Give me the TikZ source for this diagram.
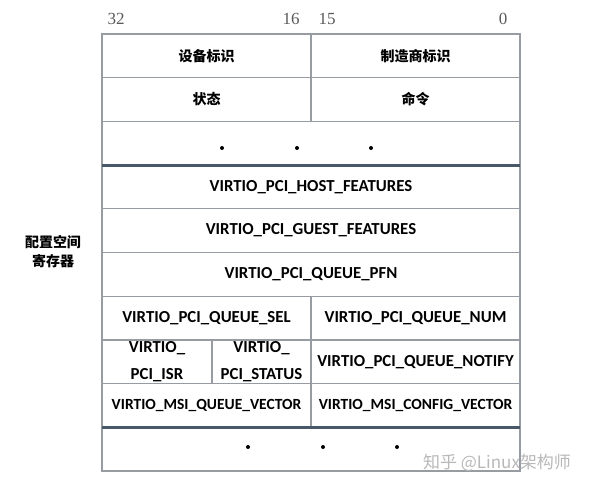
\documentclass[tikz,border=0pt]{standalone}
\usepackage{fontspec}
\setmainfont{Liberation Serif}
\setsansfont{Carlito}
\newfontfamily\cjk{Noto Sans CJK SC}
\usetikzlibrary{positioning}
\definecolor{gridgray}{RGB}{150,156,162}
\definecolor{ruleblue}{RGB}{72,88,104}

\begin{document}
\begin{tikzpicture}[
  x=1pt, y=-1pt,
  node distance=0pt,
  cell/.style={rectangle, draw=gridgray, line width=1.2pt, minimum height=43.7pt, inner sep=0pt, outer sep=0pt, align=center, font=\sffamily\bfseries\fontsize{16.8}{19}\selectfont},
  half/.style={cell, minimum width=209pt},
  full/.style={cell, minimum width=418pt},
  small/.style={font=\sffamily\bfseries\fontsize{15.5}{18}\selectfont},
  cn/.style={font=\cjk\bfseries\fontsize{14}{19}\selectfont},
  bitno/.style={font=\fontsize{17}{19}\selectfont, text=black!65},
  dot/.style={circle, fill=black, inner sep=0pt, minimum size=4pt},
  heavy/.style={draw=ruleblue, line width=3pt}
]
\useasboundingbox (0,0) rectangle (590,488);

% header row and PCI part
\node[half, cn, anchor=north west] (devid) at (102,34) {设备标识};
\node[half, cn, right=of devid] (vendid) {制造商标识};
\node[half, cn, below=of devid] (status) {状态};
\node[half, cn, below=of vendid] (cmd) {命令};
\node[full, below=of status.south east] (dotsa) {};

% virtio registers
\node[full, below=of dotsa] (host) {VIRTIO\_PCI\_HOST\_FEATURES};
\node[full, below=of host] (guest) {VIRTIO\_PCI\_GUEST\_FEATURES};
\node[full, below=of guest] (pfn) {VIRTIO\_PCI\_QUEUE\_PFN};
\node[half, below=of pfn.south, anchor=north east] (qsel) {VIRTIO\_PCI\_QUEUE\_SEL};
\node[half, right=of qsel] (qnum) {VIRTIO\_PCI\_QUEUE\_NUM};
\node[cell, minimum width=110pt, below=of qsel.south west, anchor=north west] (isr) {VIRTIO\_\\[8pt]PCI\_ISR};
\node[cell, minimum width=99pt, right=of isr] (pcistat) {VIRTIO\_\\[8pt]PCI\_STATUS};
\node[half, below=of qnum] (notify) {VIRTIO\_PCI\_QUEUE\_NOTIFY};
\node[half, small, below=of isr.south west, anchor=north west] (msiq) {VIRTIO\_MSI\_QUEUE\_VECTOR};
\node[half, small, below=of notify] (msic) {VIRTIO\_MSI\_CONFIG\_VECTOR};
\node[full, below=of msiq.south east] (dotsb) {};

\draw[heavy] (dotsa.south west) -- (dotsa.south east);
\draw[heavy] (msiq.south west) -- (msic.south east);

\foreach \x [count=\i] in {222,297,371}
  \node[dot] (da\i) at (\x,148) {};
\foreach \x [count=\i] in {248,323,397}
  \node[dot] (db\i) at (\x,447) {};

% bit numbers
\node[bitno] (b32) at (116,19) {32};
\node[bitno] (b16) at (291,19) {16};
\node[bitno] (b15) at (327,19) {15};
\node[bitno] (b0) at (503,19) {0};

\node[cn, align=center] (cfg) at (53,252) {配置空间\\寄存器};

\node[font=\cjk\fontsize{17}{19}\selectfont, text=black!28] (mark) at (497,463) {知乎 @Linux架构师};
\end{tikzpicture}
\end{document}
